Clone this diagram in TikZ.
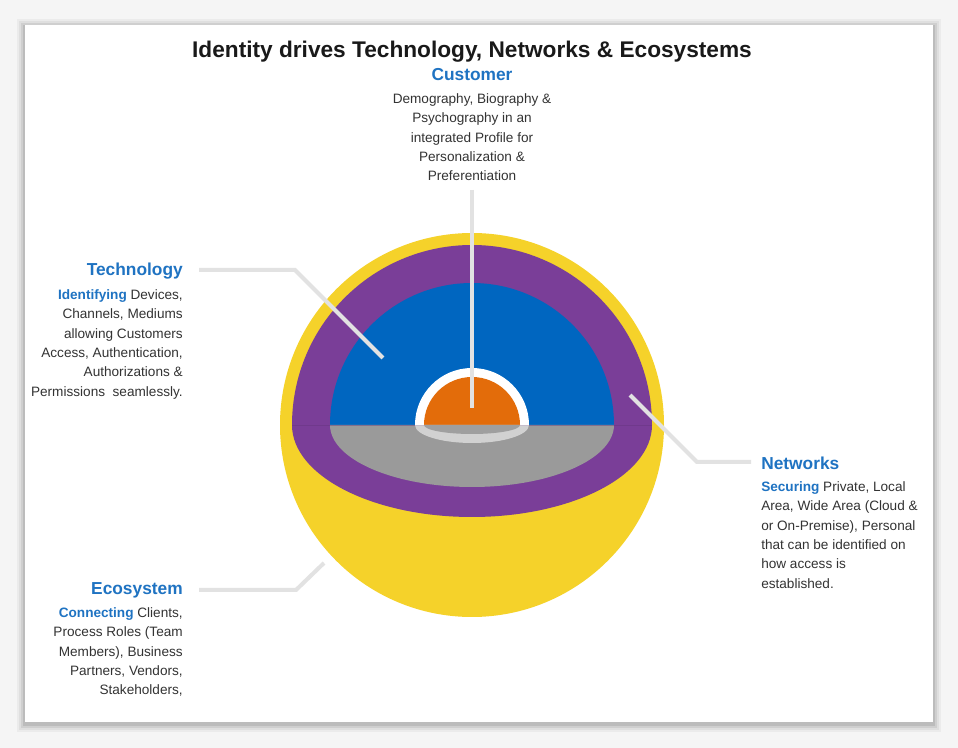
\documentclass[tikz,border=0pt]{standalone}
\usepackage{fontspec}
\setmainfont{Liberation Sans}
\usetikzlibrary{calc}
\begin{document}
\begin{tikzpicture}[x=0.75pt,y=-0.75pt]
\definecolor{yel}{HTML}{F5D22A}
\definecolor{pur}{HTML}{7A3E98}
\definecolor{blu}{HTML}{0066C0}
\definecolor{gry}{HTML}{9A9A9A}
\definecolor{org}{HTML}{E36C0A}
\definecolor{lead}{HTML}{E2E2E2}
\definecolor{head}{HTML}{1F73C2}
\definecolor{txt}{HTML}{333333}
\tikzset{leader/.style={draw=lead,line width=3pt},
 hd/.style={font=\fontsize{13}{15}\selectfont\bfseries,text=head,inner sep=0},
 body/.style={font=\fontsize{10.2}{14.6}\selectfont,text=txt,inner sep=0},
 kw/.style={text=head}}
\useasboundingbox (0,0) rectangle (958,748);
\fill[gray!8] (0,0) rectangle (958,748);
\foreach \i/\o in {8/0.04,6/0.05,4/0.07,2/0.09}{\fill[black,opacity=\o] (25-\i,25-\i+2) rectangle (933+\i,722+\i+2);}
\fill[white] (25,25) rectangle (933,722);
\coordinate (c) at (472,425);
% sphere
\fill[yel] (c) circle[radius=192];
\fill[pur] ($(c)+(-180,0)$) arc[start angle=180,end angle=360,radius=180] arc[start angle=0,end angle=180,x radius=180,y radius=92] -- cycle;
\fill[blu] ($(c)+(-142,0)$) arc[start angle=180,end angle=360,radius=142] -- cycle;
\fill[gry] ($(c)+(-142,0)$) arc[start angle=180,end angle=0,x radius=142,y radius=62] -- cycle;
\draw[pur!80!black,opacity=0.4,line width=0.6pt] ($(c)+(-180,0)$) -- ($(c)+(180,0)$);
\fill[white] ($(c)+(-57,0)$) arc[start angle=180,end angle=360,radius=57] -- cycle;
\fill[org] ($(c)+(-48,0)$) arc[start angle=180,end angle=360,radius=48] -- cycle;
\fill[white,opacity=0.55] ($(c)+(-57,0)$) arc[start angle=180,end angle=0,x radius=57,y radius=18] -- cycle;
\fill[gray!75] ($(c)+(-48,0)$) arc[start angle=180,end angle=0,x radius=48,y radius=9] -- cycle;
% title
\node[font=\fontsize{17}{20}\selectfont\bfseries,text=black!90] (title) at (472,52) {Identity drives Technology, Networks \& Ecosystems};
% customer
\node[hd] (cust) at (472,75) {Customer};
\node[body,align=center,anchor=north] (custt) at (472,93) {Demography, Biography \&\\Psychography in an\\integrated Profile for\\Personalization \&\\Preferentiation};
\coordinate (cu1) at (472,190); \coordinate (cu2) at (472,408);
\draw[leader] (cu1) -- (cu2);
% technology
\node[hd,anchor=east] (tech) at (183,271) {Technology};
\node[body,align=right,anchor=north east] (techt) at (183,289) {\textcolor{head}{\bfseries Identifying} Devices,\\Channels, Mediums\\allowing Customers\\Access, Authentication,\\Authorizations \&\\Permissions\ \ seamlessly.};
\coordinate (t1) at (199,270); \coordinate (t2) at (295,270); \coordinate (t3) at (383,358);
\draw[leader] (t1) -- (t2) -- (t3);
% networks
\node[hd,anchor=west] (net) at (761,463) {Networks};
\node[body,align=left,anchor=north west] (nett) at (761,481) {\textcolor{head}{\bfseries Securing} Private, Local\\Area, Wide Area (Cloud \&\\or On-Premise), Personal\\that can be identified on\\how access is\\established.};
\coordinate (n1) at (630,395); \coordinate (n2) at (697,462); \coordinate (n3) at (751,462);
\draw[leader] (n1) -- (n2) -- (n3);
% ecosystem
\node[hd,anchor=east] (eco) at (183,590) {Ecosystem};
\node[body,align=right,anchor=north east] (ecot) at (183,607) {\textcolor{head}{\bfseries Connecting} Clients,\\Process Roles (Team\\Members), Business\\Partners, Vendors,\\Stakeholders,};
\coordinate (e1) at (199,590); \coordinate (e2) at (296,590); \coordinate (e3) at (324,563);
\draw[leader] (e1) -- (e2) -- (e3);
\end{tikzpicture}
\end{document}
